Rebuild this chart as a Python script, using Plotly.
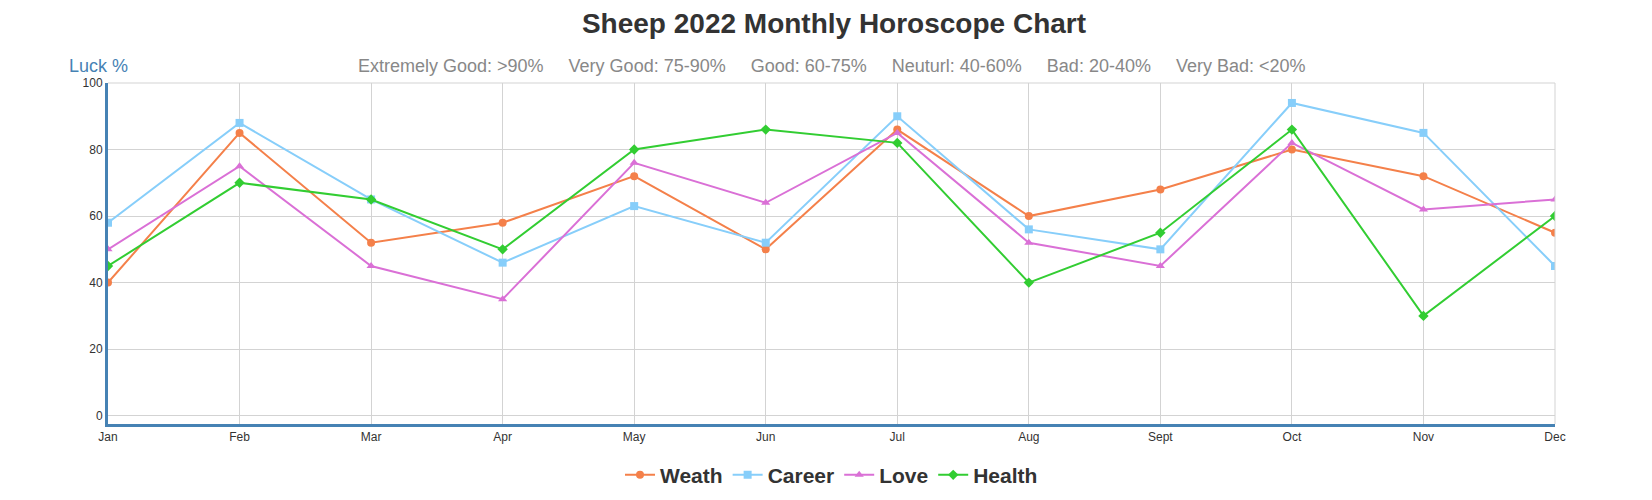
import plotly.graph_objects as go

months = ["Jan", "Feb", "Mar", "Apr", "May", "Jun", "Jul", "Aug", "Sept", "Oct", "Nov", "Dec"]
wealth = [40, 85, 52, 58, 72, 50, 86, 60, 68, 80, 72, 55]
career = [58, 88, 65, 46, 63, 52, 90, 56, 50, 94, 85, 45]
love = [50, 75, 45, 35, 76, 64, 85, 52, 45, 82, 62, 65]
health = [45, 70, 65, 50, 80, 86, 82, 40, 55, 86, 30, 60]

series = [
    ("Weath", wealth, "#f4804a", "circle"),
    ("Career", career, "#87cefa", "square"),
    ("Love", love, "#da70d6", "triangle-up"),
    ("Health", health, "#32cd32", "diamond"),
]

fig = go.Figure()
for name, vals, color, sym in series:
    fig.add_trace(go.Scatter(x=months, y=vals, name=name, mode="lines+markers",
                             line=dict(color=color, width=2),
                             marker=dict(symbol=sym, size=8, color=color)))

fig.update_layout(
    width=1652, height=500,
    paper_bgcolor="white", plot_bgcolor="white",
    margin=dict(l=100, r=105, t=75, b=80),
    font=dict(family="Arial, Liberation Sans, sans-serif", color="#333"),
    title=dict(text="<b>Sheep 2022 Monthly Horoscope Chart</b>", x=0.5, xanchor="center",
               y=0.99, yanchor="top", font=dict(size=28, color="#333")),
    legend=dict(orientation="h", x=0.5, xanchor="center", y=-0.09, yanchor="top",
                font=dict(size=21, color="#333", weight="bold")),
    xaxis=dict(showgrid=True, gridcolor="#d3d3d3", showline=True, linecolor="#4682b4",
               linewidth=3, ticks="", tickfont=dict(size=12), range=[0, 11], fixedrange=True),
    yaxis=dict(range=[-2.5, 100], tickvals=[0, 20, 40, 60, 80, 100], showgrid=True,
               gridcolor="#d3d3d3", showline=True, linecolor="#4682b4", linewidth=3,
               mirror=False, tickfont=dict(size=12), zeroline=False),
    annotations=[
        dict(text="Luck %", xref="paper", yref="paper", x=-0.028, y=1.015, xanchor="left",
             yanchor="bottom", showarrow=False, font=dict(size=18, color="#4682b4")),
        dict(text="Extremely Good: >90%&nbsp;&nbsp;&nbsp;&nbsp;&nbsp;Very Good: 75-90%&nbsp;&nbsp;&nbsp;&nbsp;&nbsp;"
                  "Good: 60-75%&nbsp;&nbsp;&nbsp;&nbsp;&nbsp;Neuturl: 40-60%&nbsp;&nbsp;&nbsp;&nbsp;&nbsp;"
                  "Bad: 20-40%&nbsp;&nbsp;&nbsp;&nbsp;&nbsp;Very Bad: <20%",
             xref="paper", yref="paper", x=0.5, y=1.015, xanchor="center", yanchor="bottom",
             showarrow=False, font=dict(size=18, color="#888")),
    ],
)
fig.add_shape(type="line", xref="paper", yref="paper", x0=0, x1=1, y0=1, y1=1,
              line=dict(color="#d3d3d3", width=1))
fig.add_shape(type="line", xref="paper", yref="paper", x0=1, x1=1, y0=0, y1=1,
              line=dict(color="#d3d3d3", width=1))

fig.write_html("out.html")
